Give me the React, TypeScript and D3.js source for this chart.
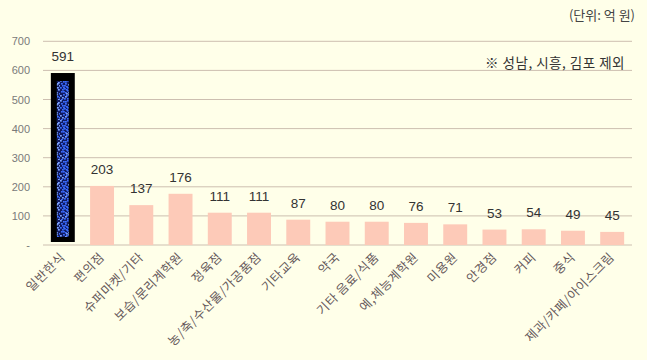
import React from "react";
import * as d3 from "d3";

const categories = [
  "일반한식", "편의점", "슈퍼마켓/기타", "보습/문리계학원", "정육점", "농/축/수산물/가공품점",
  "기타교육", "약국", "기타 음료/식품", "예,체능계학원", "미용원", "안경점", "커피", "중식", "제과/카페/아이스크림",
];
const values = [591, 203, 137, 176, 111, 111, 87, 80, 80, 76, 71, 53, 54, 49, 45];
const yTicks = [0, 100, 200, 300, 400, 500, 600, 700];
const unitLabel = "(단위: 억 원)";
const noteLabel = "※ 성남, 시흥, 김포 제외";

const W = 647, H = 360;
const M = { left: 43, right: 15, top: 41, bottom: 115 };
const FONT = "'Liberation Sans', 'Noto Sans CJK KR', sans-serif";
const KFONT = "'Noto Sans CJK KR', 'Liberation Sans', sans-serif";

// fixed speckle tile for the highlighted bar
const speckles: [number, number][] = [
  [0, 0], [3, 1], [7, 0], [10, 2], [1, 3], [5, 3], [8, 4], [2, 5], [6, 6], [11, 5],
  [0, 7], [4, 8], [9, 7], [2, 9], [7, 10], [10, 9], [1, 11], [5, 12], [8, 12], [3, 14],
  [11, 13], [0, 15], [6, 15], [9, 16], [2, 17], [4, 18], [7, 18], [10, 19], [1, 19], [5, 1],
  [8, 14], [3, 11], [6, 9], [9, 3], [4, 5], [11, 17], [5, 16], [7, 7], [3, 7], [6, 13],
];

export default function App() {
  const x = d3.scaleBand<string>().domain(categories).range([M.left, W - M.right]).paddingInner(0.39).paddingOuter(0.2);
  const y = d3.scaleLinear().domain([0, 700]).range([245, 41.3]);

  return (
    <div style={{ position: "absolute", left: 0, top: 0 }}>
      <svg width={W} height={H} style={{ display: "block" }}>
        <defs>
          <pattern id="speck" width={12} height={20} patternUnits="userSpaceOnUse">
            <rect width={12} height={20} fill="#101a60" />
            {speckles.map(([sx, sy], i) => (
              <rect key={i} x={sx} y={sy} width={1.8} height={1.6} fill={i % 3 === 0 ? "#7aa2ff" : "#3a6cff"} />
            ))}
          </pattern>
        </defs>
        <rect width={W} height={H} fill="#FFFFE9" />
        {yTicks.map((t) => (
          <g key={t}>
            <line x1={M.left} x2={W - M.right} y1={y(t)} y2={y(t)} stroke="#CDBFB0" strokeWidth={1} />
            <text x={30} y={y(t) + 4} textAnchor="end" fontSize={11} fill="#7a7a7a" fontFamily={FONT}>
              {t === 0 ? "-" : t}
            </text>
          </g>
        ))}
        {categories.map((c, i) => {
          const bx = x(c)!;
          const bw = x.bandwidth();
          const top = y(values[i]);
          const cx = bx + bw / 2;
          return (
            <g key={c}>
              {i === 0 ? (
                <>
                  <rect x={bx} y={top} width={bw} height={y(0) - 3 - top} fill="#000" />
                  <rect x={bx + 6} y={top + 8} width={bw - 12} height={y(0) - 8 - top - 8} fill="url(#speck)" />
                </>
              ) : (
                <rect x={bx} y={top} width={bw} height={y(0) - top} fill="#FDCAB8" />
              )}
              <text x={cx} y={top - 12} textAnchor="middle" fontSize={13.5} fill="#333" fontFamily={FONT}>
                {values[i]}
              </text>
              <text
                transform={`translate(${cx + 3},${258}) rotate(-45)`}
                textAnchor="end"
                fontSize={12.5}
                letterSpacing={0.6}
                fill="#65585a"
                fontFamily={KFONT}
              >
                {c}
              </text>
            </g>
          );
        })}
        <text x={635} y={20} textAnchor="end" fontSize={13} fill="#444" fontFamily={KFONT}>
          {unitLabel}
        </text>
        <text x={625} y={68} textAnchor="end" fontSize={13.5} letterSpacing={0.5} fill="#333" fontFamily={KFONT}>
          {noteLabel}
        </text>
      </svg>
    </div>
  );
}
